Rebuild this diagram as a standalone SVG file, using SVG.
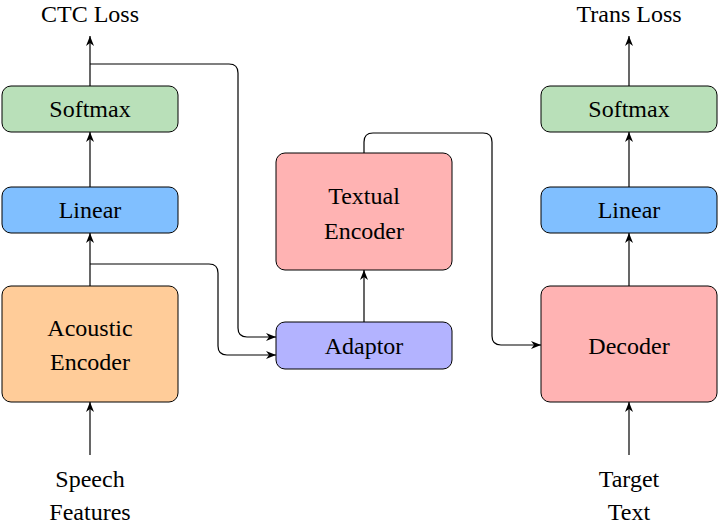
<svg xmlns="http://www.w3.org/2000/svg" width="722" height="524" viewBox="0 0 722 524">
<defs>
<marker id="ah" viewBox="0 0 10 10" refX="10" refY="5" markerWidth="10" markerHeight="10" markerUnits="userSpaceOnUse" orient="auto"><path d="M0,1 L10,5 L0,9 L3,5 Z" fill="#000"/></marker>
<style>
text{font-family:"Liberation Serif","Times New Roman",serif;font-size:24px;fill:#000;text-anchor:middle}
rect{stroke:#000;stroke-width:1}
.g{fill:#b9e0b9}.b{fill:#80bfff}.o{fill:#ffcc99}.p{fill:#ffb3b3}.v{fill:#b3b3ff}
.c path{fill:none;stroke:#000;stroke-width:1.2;marker-end:url(#ah)}
</style>
</defs>
<rect width="722" height="524" fill="#fff" style="stroke:none"/>
<g class="c">
<path d="M90,455 V402"/>
<path d="M90,286 V233"/>
<path d="M90,187 V132"/>
<path d="M90,86 V36"/>
<path d="M90,264 H209 Q218,264 218,273 V346 Q218,355 227,355 H276"/>
<path d="M90,64 H229 Q238,64 238,73 V328 Q238,337 247,337 H276"/>
<path d="M364,322 V270"/>
<path d="M364,153 V142 Q364,133 373,133 H483 Q492,133 492,142 V336 Q492,345 501,345 H541"/>
<path d="M629,455 V402"/>
<path d="M629,286 V233"/>
<path d="M629,187 V132"/>
<path d="M629,86 V36"/>
</g>
<g id="softmax1"><rect class="g" x="2" y="86" width="176" height="46" rx="9"/><text x="90" y="117">Softmax</text></g>
<g id="linear1"><rect class="b" x="2" y="187" width="176" height="46" rx="9"/><text x="90" y="218">Linear</text></g>
<g id="acoustic"><rect class="o" x="2" y="286" width="176" height="116" rx="9"/><text x="90" y="336">Acoustic</text><text x="90" y="370">Encoder</text></g>
<g id="textual"><rect class="p" x="276" y="153" width="176" height="117" rx="9"/><text x="364" y="204">Textual</text><text x="364" y="239">Encoder</text></g>
<g id="adaptor"><rect class="v" x="276" y="322" width="176" height="47" rx="9"/><text x="364" y="354">Adaptor</text></g>
<g id="softmax2"><rect class="g" x="541" y="86" width="176" height="46" rx="9"/><text x="629" y="117">Softmax</text></g>
<g id="linear2"><rect class="b" x="541" y="187" width="176" height="46" rx="9"/><text x="629" y="218">Linear</text></g>
<g id="decoder"><rect class="p" x="541" y="286" width="176" height="116" rx="9"/><text x="629" y="354">Decoder</text></g>
<g id="ctc"><text x="90" y="22">CTC Loss</text></g>
<g id="trans"><text x="629" y="22">Trans Loss</text></g>
<g id="speech"><text x="90" y="487">Speech</text><text x="90" y="520">Features</text></g>
<g id="target"><text x="629" y="487">Target</text><text x="629" y="520">Text</text></g>
</svg>
